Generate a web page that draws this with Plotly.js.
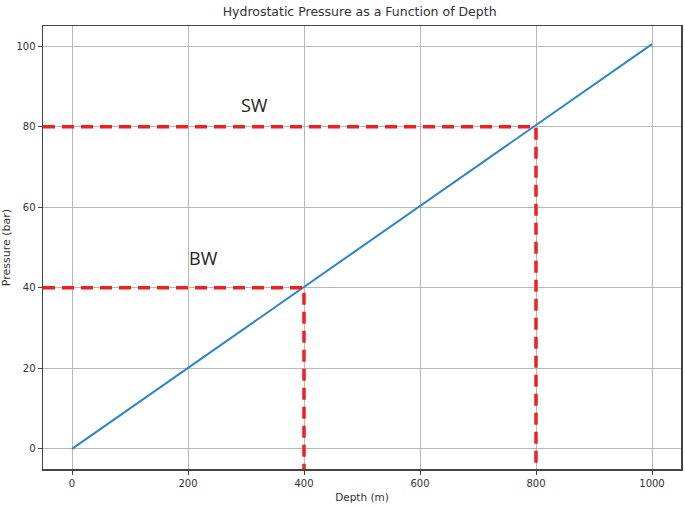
<!DOCTYPE html>
<html>
<head>
<meta charset="utf-8">
<script src="https://cdn.plot.ly/plotly-3.0.1.min.js"></script>
<style>html,body{margin:0;padding:0;background:#fff;}#chart{width:685px;height:509px;}</style>
</head>
<body>
<div id="chart"></div>
<script>
// Data
const depth = [0, 1000];
const pressure = [0, 100.5];
const markerLabels = ["SW", "BW"];
const markerDepths = [800, 400];
const markerPressures = [80, 40];
const labelDepths = [315, 226];
const labelPressures = [85.5, 47.5];
const xTicks = [0, 200, 400, 600, 800, 1000];
const yTicks = [0, 20, 40, 60, 80, 100];

const xRange = [-50, 1050];
const yRange = [-5, 105];

const traces = [{
  x: depth, y: pressure, mode: 'lines', type: 'scatter',
  line: {color: '#2b85cc', width: 2}, hoverinfo: 'skip'
}];
markerDepths.forEach((d, i) => {
  traces.push({
    x: [xRange[0], d, d], y: [markerPressures[i], markerPressures[i], yRange[0]],
    mode: 'lines', type: 'scatter',
    line: {color: '#f02020', width: 3.5, dash: '12px,7px'}, hoverinfo: 'skip'
  });
});

const annotations = markerLabels.map((t, i) => ({
  x: labelDepths[i], y: labelPressures[i], text: t, showarrow: false,
  font: {family: 'Open Sans, Liberation Sans, sans-serif', size: 18, color: '#222'}
}));

const axisCommon = {
  showgrid: true, gridcolor: '#b8b8b8', gridwidth: 1,
  zeroline: false, showline: true, mirror: true, linecolor: '#444', linewidth: 1.5,
  ticks: 'outside', ticklen: 4, tickcolor: '#444',
  tickfont: {family: 'DejaVu Sans, sans-serif', size: 10, color: '#333'}
};

const layout = {
  width: 685, height: 509,
  margin: {l: 43, r: 4, t: 26, b: 40},
  paper_bgcolor: '#fff', plot_bgcolor: '#fff',
  showlegend: false,
  title: {text: 'Hydrostatic Pressure as a Function of Depth', x: 0.525, xanchor: 'center', y: 0.985, yanchor: 'top',
    font: {family: 'DejaVu Sans, sans-serif', size: 12.5, color: '#333'}},
  xaxis: Object.assign({}, axisCommon, {
    range: xRange, tickvals: xTicks,
    title: {text: 'Depth (m)', standoff: 6, font: {family: 'DejaVu Sans, sans-serif', size: 10.5, color: '#333'}}
  }),
  yaxis: Object.assign({}, axisCommon, {
    range: yRange, tickvals: yTicks,
    title: {text: 'Pressure (bar)', standoff: 6, font: {family: 'DejaVu Sans, sans-serif', size: 11, color: '#333'}}
  }),
  annotations: annotations
};

Plotly.newPlot('chart', traces, layout, {staticPlot: true});
</script>
</body>
</html>
